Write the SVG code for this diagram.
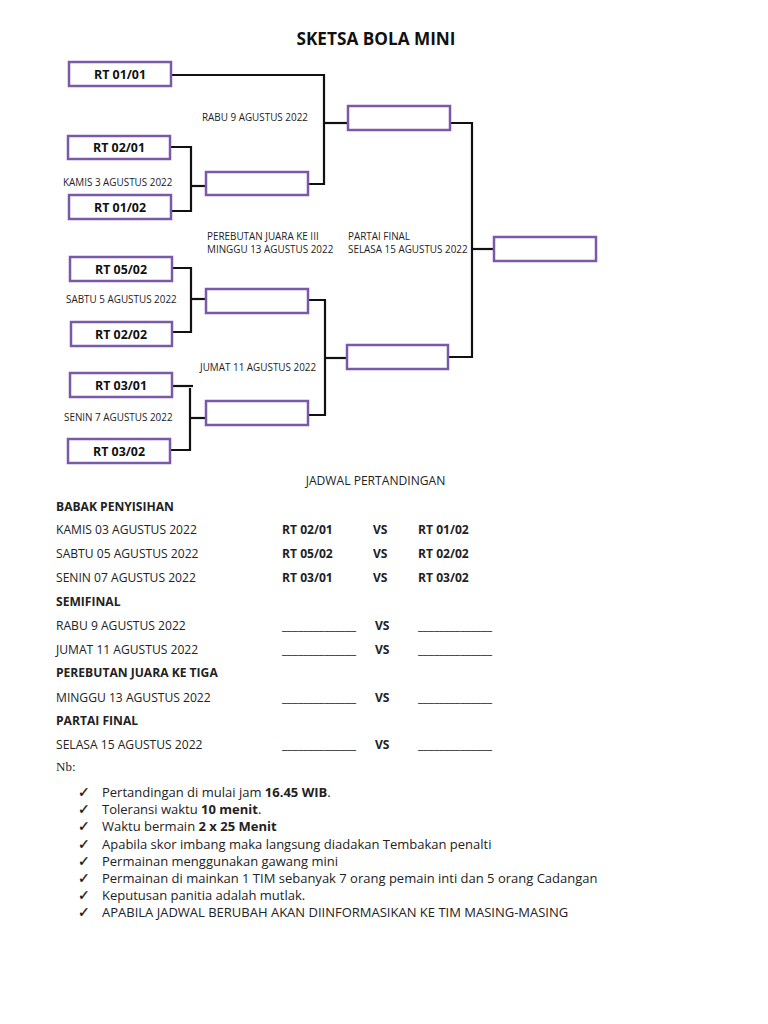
<svg xmlns="http://www.w3.org/2000/svg" width="768" height="1024" viewBox="0 0 768 1024">
<style>
.box{fill:#fff;stroke:#7a5aa8;stroke-width:2.5}
.team{font-family:"Open Sans","Liberation Sans",sans-serif;font-size:12.4px;font-weight:bold;fill:#111;text-anchor:middle}
.lbl{font-family:"Open Sans","Liberation Sans",sans-serif;font-size:9.9px;fill:#222}
.con{fill:none;stroke:#111;stroke-width:2.2}
.sch{font-family:"Open Sans","Liberation Sans",sans-serif;font-size:12.1px;fill:#222}
.b{font-weight:bold}
.nt{font-family:"Open Sans","Liberation Sans",sans-serif;font-size:13px;fill:#222}
.ck{font-family:"DejaVu Sans",sans-serif;font-size:14px;fill:#111;stroke:#111;stroke-width:0.3}
</style>
<rect width="768" height="1024" fill="#fff"/>
<text x="376" y="45" text-anchor="middle" font-family="Open Sans, Liberation Sans, sans-serif" font-size="17.2" font-weight="bold" fill="#111">SKETSA BOLA MINI</text>

<g id="connectors">
<path class="con" d="M171,75 H324 V184 H308"/>
<path class="con" d="M324,123 H348"/>
<path class="con" d="M170,147 H191 V211 H172"/>
<path class="con" d="M191,186 H206"/>
<path class="con" d="M450,123 H472 V357 H448"/>
<path class="con" d="M472,249 H494"/>
<path class="con" d="M172,268 H191 V332 H172"/>
<path class="con" d="M191,299 H206"/>
<path class="con" d="M308,300 H325 V415 H308"/>
<path class="con" d="M325,358 H347"/>
<path class="con" d="M172,386 H193"/>
<path class="con" d="M190,388 V450 H170"/>
<path class="con" d="M190,418 H206"/>
</g>

<g id="n-rt0101"><rect class="box" x="69" y="62" width="102" height="24"/><text class="team" x="120" y="78.5">RT 01/01</text></g>
<g id="n-rt0201"><rect class="box" x="68" y="136" width="102" height="23"/><text class="team" x="119" y="152">RT 02/01</text></g>
<g id="n-rt0102"><rect class="box" x="69" y="195" width="102" height="24"/><text class="team" x="120" y="211.5">RT 01/02</text></g>
<g id="n-r2a"><rect class="box" x="206" y="172" width="102" height="23"/></g>
<g id="n-sf1"><rect class="box" x="348" y="106" width="102" height="24"/></g>
<g id="n-final"><rect class="box" x="494" y="237" width="102" height="24"/></g>
<g id="n-rt0502"><rect class="box" x="70" y="257" width="102" height="24"/><text class="team" x="121" y="273.5">RT 05/02</text></g>
<g id="n-rt0202"><rect class="box" x="71" y="322" width="101" height="24"/><text class="team" x="121" y="338.5">RT 02/02</text></g>
<g id="n-r2b"><rect class="box" x="206" y="289" width="102" height="24"/></g>
<g id="n-sf2"><rect class="box" x="347" y="345" width="101" height="24"/></g>
<g id="n-rt0301"><rect class="box" x="70" y="373" width="102" height="24"/><text class="team" x="121" y="389.5">RT 03/01</text></g>
<g id="n-r2c"><rect class="box" x="206" y="401" width="102" height="24"/></g>
<g id="n-rt0302"><rect class="box" x="68" y="439" width="102" height="24"/><text class="team" x="119" y="455.5">RT 03/02</text></g>

<g id="bracket-labels">
<text class="lbl" x="202" y="120.5">RABU 9 AGUSTUS 2022</text>
<text class="lbl" x="63" y="185.5">KAMIS 3 AGUSTUS 2022</text>
<text class="lbl" x="207" y="239.5">PEREBUTAN JUARA KE III</text>
<text class="lbl" x="207" y="252.5">MINGGU 13 AGUSTUS 2022</text>
<text class="lbl" x="348" y="239.5">PARTAI FINAL</text>
<text class="lbl" x="348" y="252.5">SELASA 15 AGUSTUS 2022</text>
<text class="lbl" x="66" y="302.5">SABTU 5 AGUSTUS 2022</text>
<text class="lbl" x="200" y="370.5">JUMAT 11 AGUSTUS 2022</text>
<text class="lbl" x="64" y="420.5">SENIN 7 AGUSTUS 2022</text>
</g>

<g id="schedule">
<text class="sch" x="375.5" y="485" text-anchor="middle">JADWAL PERTANDINGAN</text>
<text class="sch b" x="56" y="511">BABAK PENYISIHAN</text>
<text class="sch" x="56" y="534">KAMIS 03 AGUSTUS 2022</text>
<text class="sch b" x="282" y="534">RT 02/01</text>
<text class="sch b" x="373" y="534">VS</text>
<text class="sch b" x="418" y="534">RT 01/02</text>
<text class="sch" x="56" y="558">SABTU 05 AGUSTUS 2022</text>
<text class="sch b" x="282" y="558">RT 05/02</text>
<text class="sch b" x="373" y="558">VS</text>
<text class="sch b" x="418" y="558">RT 02/02</text>
<text class="sch" x="56" y="582">SENIN 07 AGUSTUS 2022</text>
<text class="sch b" x="282" y="582">RT 03/01</text>
<text class="sch b" x="373" y="582">VS</text>
<text class="sch b" x="418" y="582">RT 03/02</text>
<text class="sch b" x="56" y="606">SEMIFINAL</text>
<text class="sch" x="56" y="630">RABU 9 AGUSTUS 2022</text>
<text class="sch" x="282" y="630">______________</text>
<text class="sch b" x="375" y="630">VS</text>
<text class="sch" x="418" y="630">______________</text>
<text class="sch" x="56" y="654">JUMAT 11 AGUSTUS 2022</text>
<text class="sch" x="282" y="654">______________</text>
<text class="sch b" x="375" y="654">VS</text>
<text class="sch" x="418" y="654">______________</text>
<text class="sch b" x="56" y="677">PEREBUTAN JUARA KE TIGA</text>
<text class="sch" x="56" y="702">MINGGU 13 AGUSTUS 2022</text>
<text class="sch" x="282" y="702">______________</text>
<text class="sch b" x="375" y="702">VS</text>
<text class="sch" x="418" y="702">______________</text>
<text class="sch b" x="56" y="725">PARTAI FINAL</text>
<text class="sch" x="56" y="749">SELASA 15 AGUSTUS 2022</text>
<text class="sch" x="282" y="749">______________</text>
<text class="sch b" x="375" y="749">VS</text>
<text class="sch" x="418" y="749">______________</text>
</g>

<g id="notes">
<text x="56" y="771" font-family="Liberation Serif, serif" font-size="13" fill="#222">Nb:</text>
<text class="ck" x="78" y="797">✓</text><text class="nt" x="102" y="797">Pertandingan di mulai jam <tspan font-weight="bold">16.45 WIB</tspan>.</text>
<text class="ck" x="78" y="814">✓</text><text class="nt" x="102" y="814">Toleransi waktu <tspan font-weight="bold">10 menit</tspan>.</text>
<text class="ck" x="78" y="831">✓</text><text class="nt" x="102" y="831">Waktu bermain <tspan font-weight="bold">2 x 25 Menit</tspan></text>
<text class="ck" x="78" y="849">✓</text><text class="nt" x="102" y="849">Apabila skor imbang maka langsung diadakan Tembakan penalti</text>
<text class="ck" x="78" y="866">✓</text><text class="nt" x="102" y="866">Permainan menggunakan gawang mini</text>
<text class="ck" x="78" y="883">✓</text><text class="nt" x="102" y="883">Permainan di mainkan 1 TIM sebanyak 7 orang pemain inti dan 5 orang Cadangan</text>
<text class="ck" x="78" y="900">✓</text><text class="nt" x="102" y="900">Keputusan panitia adalah mutlak.</text>
<text class="ck" x="78" y="917">✓</text><text class="nt" x="102" y="917">APABILA JADWAL BERUBAH AKAN DIINFORMASIKAN KE TIM MASING-MASING</text>
</g>
</svg>
